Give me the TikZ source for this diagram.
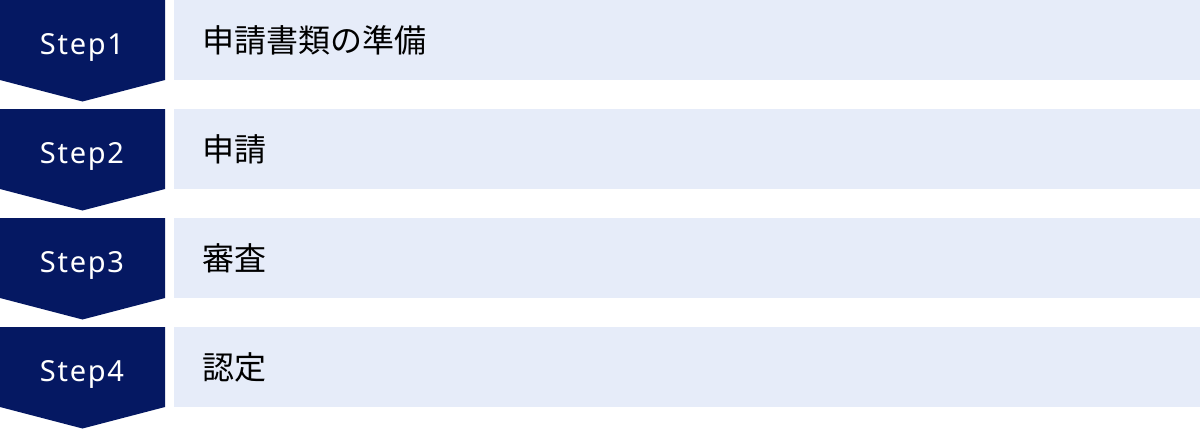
\documentclass[tikz,border=0pt]{standalone}
\usepackage{fontspec}
\setmainfont{Noto Sans}
\newfontfamily\jpfont{Noto Sans CJK JP}
\definecolor{navy}{HTML}{051862}
\definecolor{lightbg}{HTML}{E6ECF9}
\begin{document}
\begin{tikzpicture}[x=1bp,y=-1bp,
  stepshape/.style={fill=navy,draw=none},
  stepbar/.style={fill=lightbg,draw=none},
  steplabel/.style={text=white,inner sep=0pt,anchor=base,font=\fontsize{29bp}{34bp}\selectfont},
  desclabel/.style={text=black,inner sep=0pt,anchor=west,font=\jpfont\fontsize{32bp}{38bp}\selectfont}]
\useasboundingbox (0,0) rectangle (1200,429);
\foreach \i/\t in {0/申請書類の準備,1/申請,2/審査,3/認定}{
  \pgfmathsetmacro{\yy}{\i*109}
  \fill[stepshape] (0,\yy) -- (165,\yy) -- (165,\yy+80) -- (82.5,\yy+101.5) -- (0,\yy+80) -- cycle;
  \fill[stepbar] (174,\yy) rectangle (1200,\yy+80);
  \pgfmathtruncatemacro{\n}{\i+1}
  \node[steplabel] (s\n) at (82,\yy+54.5) {\addfontfeature{LetterSpace=6}Step\n};
  \node[desclabel] (d\n) at (202,\yy+40) {\t};
}
\end{tikzpicture}
\end{document}
